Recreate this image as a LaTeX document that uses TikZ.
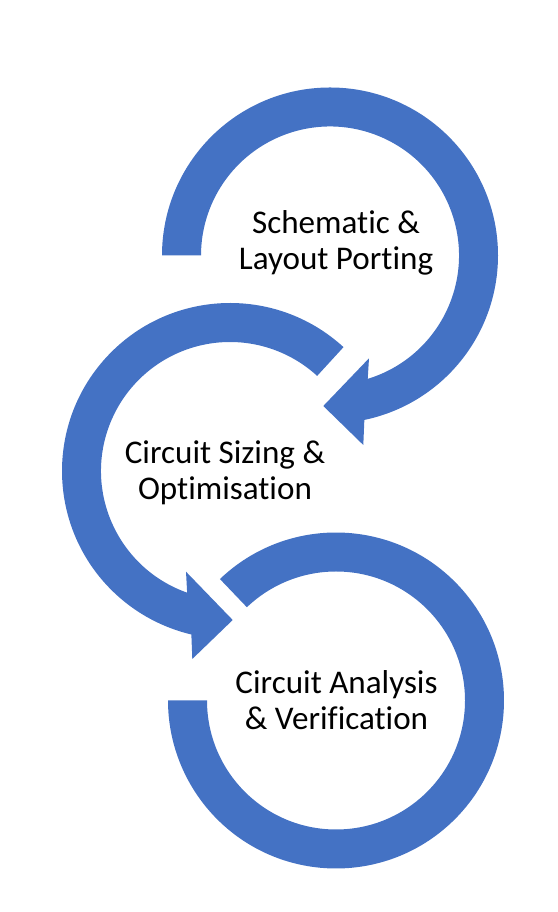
\documentclass[tikz,border=0pt]{standalone}
\usepackage{fontspec}
\setmainfont{Carlito}[Ligatures={NoCommon}]
\definecolor{ringblue}{HTML}{4472C4}
\begin{document}
\begin{tikzpicture}[x=1pt,y=1pt,
  ring/.style={fill=ringblue,draw=none},
  lbl/.style={align=center,anchor=base,text=black,inner sep=0pt,
    font=\fontsize{33.1}{36.7}\selectfont}]
\useasboundingbox (0,0) rectangle (557,912);
% top ring: clockwise from 9 o'clock, arrowhead at the bottom
\begin{scope}[shift={(330,656.5)}]
  \fill[ring] (180:168pt) arc[start angle=180,end angle=-78.2,radius=168pt]
    -- (33.3,-189.5) coordinate (topwingout)
    -- (-6.7,-150.5) coordinate (toptip)
    -- (39,-102.8) coordinate (topwingin)
    -- (-73:129pt) arc[start angle=-73,end angle=180,radius=129pt] -- cycle;
\end{scope}
% middle ring: counter-clockwise from upper right, arrowhead at the bottom
\begin{scope}[shift={(230,441)}]
  \fill[ring] (47.5:168pt) arc[start angle=47.5,end angle=256.7,radius=168pt]
    -- (-37.7,-188) coordinate (midwingout)
    -- (2.7,-149) coordinate (midtip)
    -- (-44,-100.7) coordinate (midwingin)
    -- (250.6:129pt) arc[start angle=250.6,end angle=47.5,radius=129pt] -- cycle;
\end{scope}
% bottom ring: clockwise from upper left to 9 o'clock
\begin{scope}[shift={(336,211.5)}]
  \fill[ring] (133.7:168pt) arc[start angle=133.7,end angle=-180,radius=168pt]
    -- (180:129pt) arc[start angle=-180,end angle=133.7,radius=129pt] -- cycle;
\end{scope}
\node[lbl] (schem) at (336,642) {Schematic \&\\Layout Porting};
\node[lbl] (sizing) at (225,412) {Circuit Sizing \&\\Optimisation};
\node[lbl] (analysis) at (336.5,182) {Circuit Analysis\\\& Verification};
\end{tikzpicture}
\end{document}
